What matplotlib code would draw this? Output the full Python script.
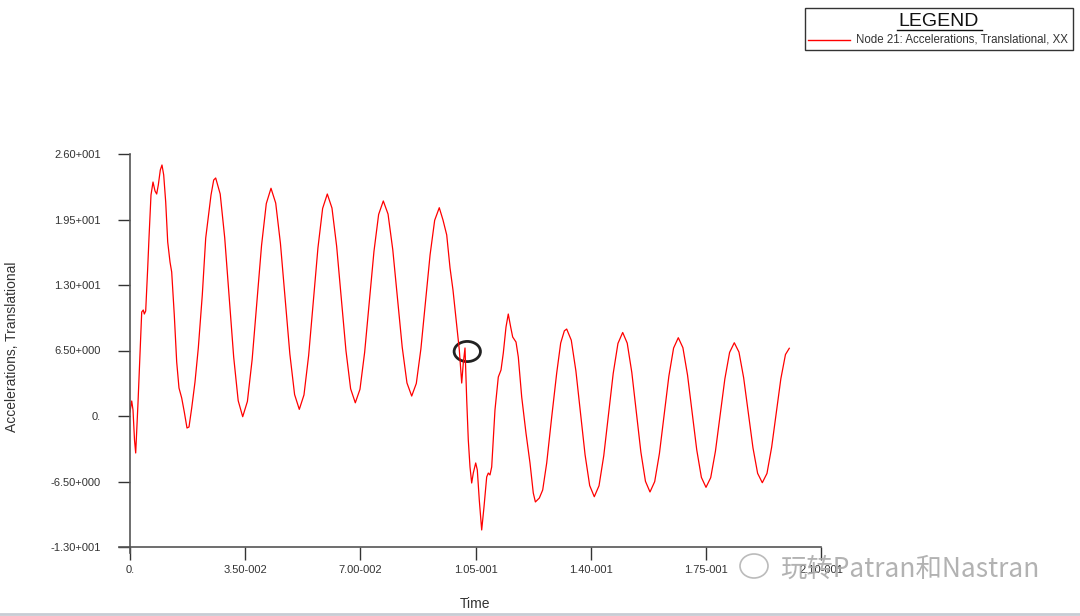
import numpy as np
import matplotlib
matplotlib.use("Agg")
import matplotlib.pyplot as plt
from matplotlib.patches import Ellipse, Rectangle

plt.rcParams['font.family'] = ['Liberation Sans', 'DejaVu Sans']

# time in ms, acceleration values
t_ms = [
    0.00, 0.52, 0.91, 1.37, 1.73, 2.13, 2.43, 3.04, 3.56, 4.04, 4.35, 4.77,
    5.38, 5.77, 6.38, 6.99, 7.60, 8.11, 8.60, 9.21, 9.72, 10.24, 10.85, 11.46,
    12.16, 12.67, 13.46, 14.19, 14.89, 15.71, 16.50, 17.32, 17.93, 18.75,
    19.75, 20.76, 21.97, 23.01, 23.80, 24.62, 25.44,
    26.04, 27.41, 28.78, 30.14, 31.51, 32.88,
    34.25, 35.68, 37.12, 38.55, 39.98, 41.42,
    42.85, 44.28, 45.72, 47.15, 48.58, 50.02,
    51.45, 52.87, 54.29, 55.71, 57.12, 58.54,
    59.96, 61.38, 62.80, 64.22, 65.63, 67.05,
    68.47, 69.89, 71.31, 72.73, 74.14, 75.56,
    76.98, 78.42, 79.86, 81.30, 82.73, 84.17,
    85.61, 87.01, 88.40, 89.80, 91.20, 92.59,
    93.99, 95.12, 96.25, 97.26, 98.16, 99.29, 100.08, 100.81, 101.29, 101.81,
    102.33, 102.81, 103.33, 103.84, 104.33, 105.06, 105.55, 106.15, 106.88,
    107.58, 108.40, 108.89, 109.40, 109.92, 110.92, 111.93, 112.75, 113.45,
    114.27, 114.96, 115.69, 116.30, 117.31, 118.01, 119.04, 120.34, 121.56,
    122.56, 123.20, 124.40, 125.42, 126.64, 128.16, 129.68, 130.89, 132.00,
    132.71, 134.11, 135.51, 136.91, 138.30, 139.70,
    141.10, 142.54, 143.98, 145.42, 146.85, 148.29,
    149.73, 151.11, 152.50, 153.88, 155.26, 156.65,
    158.03, 159.46, 160.90, 162.33, 163.76, 165.20,
    166.63, 168.03, 169.44, 170.84, 172.24, 173.65,
    175.05, 176.48, 177.92, 179.35, 180.78, 182.22,
    183.65, 185.07, 186.49, 187.91, 189.32, 190.74,
    192.16, 193.58, 195.00, 196.40, 197.80, 199.20, 200.36,
]
accel = [
    0.40, 1.49, 0.60, -2.38, -3.67, -0.89, 1.29, 6.05, 10.32, 10.52, 10.12, 10.42,
    14.69, 17.66, 21.93, 23.22, 22.33, 22.03, 22.92, 24.41, 24.91, 23.92, 21.24, 17.27,
    15.28, 14.29, 10.02, 5.36, 2.78, 1.79, 0.40, -1.19, -1.09, 0.79,
    3.37, 6.75, 12.01, 17.66, 19.75, 21.93, 23.42,
    23.62, 22.03, 17.70, 11.78, 5.85, 1.52,
    -0.07, 1.45, 5.60, 11.27, 16.93, 21.08,
    22.60, 21.13, 17.12, 11.63, 6.15, 2.13,
    0.66, 2.09, 6.00, 11.35, 16.69, 20.60,
    22.03, 20.64, 16.85, 11.67, 6.49, 2.70,
    1.31, 2.65, 6.32, 11.33, 16.33, 20.00,
    21.34, 20.04, 16.50, 11.66, 6.82, 3.28,
    1.98, 3.23, 6.65, 11.33, 16.00, 19.42,
    20.67, 19.45, 17.97, 14.69, 12.50, 9.03, 6.55, 3.27, 5.26, 6.75,
    1.59, -2.38, -5.06, -6.65, -5.66, -4.66, -5.36, -8.34, -11.31,
    -9.03, -6.05, -5.66, -5.85, -5.06, 0.60, 3.87, 4.56, 6.25,
    8.83, 10.12, 8.83, 7.84, 7.34, 5.85, 1.89, -1.69, -4.66,
    -7.64, -8.53, -8.14, -7.34, -4.66, -0.10, 4.27, 7.24, 8.45,
    8.63, 7.52, 4.47, 0.31, -3.85, -6.90,
    -8.01, -6.92, -3.94, 0.14, 4.22, 7.20,
    8.29, 7.23, 4.33, 0.38, -3.58, -6.48,
    -7.54, -6.51, -3.71, 0.12, 3.94, 6.74,
    7.77, 6.78, 4.06, 0.35, -3.37, -6.09,
    -7.08, -6.12, -3.49, 0.10, 3.68, 6.31,
    7.27, 6.34, 3.80, 0.33, -3.15, -5.69,
    -6.62, -5.70, -3.10, 0.30, 3.70, 6.10, 6.72,
]
x_ticks = [0.0, 0.035, 0.07, 0.105, 0.14, 0.175, 0.21]
y_ticks = [-13.0, -6.5, 0.0, 6.5, 13.0, 19.5, 26.0]


def patran_fmt(v):
    # Patran style: 2.60+001, 0.
    if v == 0:
        return "0."
    m, e = ("%.2e" % v).split("e")
    e = int(e)
    return "%s%s%03d" % (m, "+" if e >= 0 else "-", abs(e))


t = np.array(t_ms) / 1000.0

fig = plt.figure(figsize=(10.8, 6.16), dpi=100)
ax = fig.add_axes([130 / 1080, 1 - 547 / 616, 691 / 1080, 393 / 616])

ax.plot(t, accel, color="#ff0000", lw=0.9)

ax.set_xlim(0, 0.21)
ax.set_ylim(-13, 26)
ax.set_xticks(x_ticks)
ax.set_yticks(y_ticks)
ax.set_xticklabels([patran_fmt(v) for v in x_ticks])
ax.set_yticklabels([patran_fmt(v) for v in y_ticks])

for s in ["top", "right"]:
    ax.spines[s].set_visible(False)
for s in ["left", "bottom"]:
    ax.spines[s].set_color("#555555")
    ax.spines[s].set_linewidth(1.2)
ax.tick_params(axis="both", direction="out", length=9, width=1.0, color="#333333",
               labelsize=8, labelcolor="#333333")
ax.tick_params(axis="x", pad=4)
ax.tick_params(axis="y", pad=12)

# the axes run a little past the corner
ax.plot([-0.016, 0], [0, 0], transform=ax.transAxes, color="#555555", lw=1.2, clip_on=False)
ax.plot([0, 0], [-0.016, 0], transform=ax.transAxes, color="#555555", lw=1.2, clip_on=False)

ax.set_xlabel("Time", fontsize=10, color="#333333")
ax.set_ylabel("Accelerations, Translational", fontsize=10, color="#333333")
ax.xaxis.set_label_coords(0.5, -0.126)
ax.yaxis.set_label_coords(-0.161, 0.51)

# hand drawn mark
ax.add_patch(Ellipse((0.1025, 6.4), 0.0080, 2.0, fill=False,
                     edgecolor="#222222", lw=2.0))

# legend box
fig.patches.append(Rectangle((805 / 1080, 1 - 50 / 616), 268 / 1080, 42 / 616,
                             transform=fig.transFigure, fill=False,
                             edgecolor="#333333", lw=1.0))
fig.text(939 / 1080, 1 - 21 / 616, "LEGEND", ha="center", va="center",
         fontsize=14, color="#111111")
fig.lines.append(plt.Line2D([897 / 1080, 982 / 1080], [1 - 30 / 616, 1 - 30 / 616],
                            transform=fig.transFigure, color="#111111", lw=1.0))
fig.lines.append(plt.Line2D([808 / 1080, 850 / 1080], [1 - 40 / 616, 1 - 40 / 616],
                            transform=fig.transFigure, color="#ff0000", lw=1.0))
fig.text(856 / 1080, 1 - 40 / 616, "Node 21: Accelerations, Translational, XX",
         ha="left", va="center", fontsize=8.3, color="#333333")

# watermark
fig.text(780 / 1080, 1 - 569 / 616, "玩转Patran和Nastran", ha="left", va="center",
         fontsize=19, color="#aaaaaa", alpha=0.9,
         family=["Noto Sans CJK SC", "DejaVu Sans"])
fig.patches.append(Ellipse((754 / 1080, 1 - 566 / 616), 28 / 1080, 24 / 616,
                           transform=fig.transFigure, fill=False,
                           edgecolor="#bbbbbb", lw=1.2))

fig.lines.append(plt.Line2D([0, 1], [2 / 616, 2 / 616], transform=fig.transFigure,
                            color="#c8ccd4", lw=2))

fig.savefig("out.png", dpi=100)
